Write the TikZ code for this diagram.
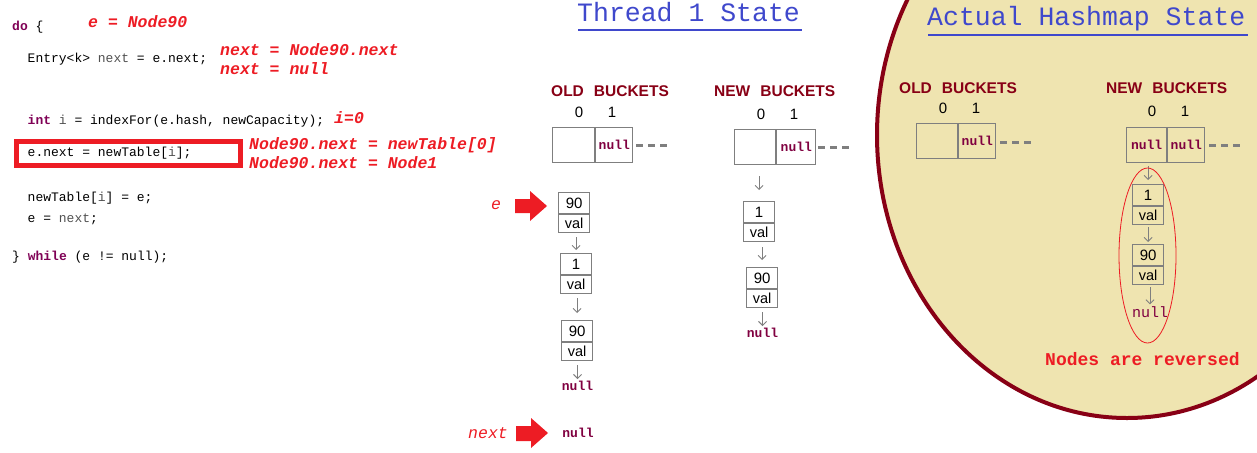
\documentclass[tikz,border=0pt]{standalone}
\usepackage{fontspec}
\newfontfamily\mono{Liberation Mono}
\newfontfamily\arial{Liberation Sans}
\usetikzlibrary{arrows.meta}
\definecolor{cred}{HTML}{ED1C24}
\definecolor{dred}{HTML}{880015}
\definecolor{tblue}{HTML}{3F48CC}
\definecolor{khaki}{HTML}{EFE4B0}
\definecolor{bgray}{HTML}{7F7F7F}
\definecolor{kw}{HTML}{7F0055}
\definecolor{nullc}{HTML}{800040}
\definecolor{varc}{HTML}{505050}
\begin{document}
\begin{tikzpicture}[x=1pt,y=-1pt,
 code/.style={anchor=west,inner sep=0pt,font=\mono\fontsize{13}{13}\selectfont,text height=9pt,text depth=3pt,text=black},
 anno/.style={anchor=west,inner sep=0pt,font=\mono\bfseries\itshape\fontsize{16.5}{16.5}\selectfont,text=cred,text height=11pt,text depth=4pt},
 ttl/.style={anchor=west,inner sep=0pt,font=\mono\fontsize{26.5}{26.5}\selectfont,text=tblue,text height=17pt,text depth=5pt},
 ttlline/.style={draw=tblue,line width=2pt},
 head/.style={anchor=west,inner sep=0pt,font=\arial\bfseries\fontsize{15.5}{15.5}\selectfont,text=dred},
 idx/.style={inner sep=0pt,font=\arial\fontsize{15}{15}\selectfont},
 bcell/.style={draw=bgray,line width=1.2pt,anchor=north west,inner sep=0pt,minimum height=35pt,font=\mono\bfseries\fontsize{13}{13}\selectfont,text=nullc},
 ntop/.style={draw=bgray,line width=1.2pt,anchor=north west,inner sep=0pt,minimum width=31pt,minimum height=21pt,font=\arial\fontsize{15}{15}\selectfont},
 nbot/.style={draw=bgray,line width=1.2pt,anchor=north,inner sep=0pt,minimum width=31pt,minimum height=18pt,font=\arial\fontsize{14.5}{14.5}\selectfont},
 nulltxt/.style={inner sep=0pt,font=\mono\bfseries\fontsize{13}{13}\selectfont,text=nullc},
 link/.style={draw=bgray,line width=0.9pt,-{Straight Barb[length=4pt,width=8pt]}},
 dashes/.style={draw=bgray,line width=3pt,dash pattern=on 7pt off 5pt},
 blockarrow/.style={fill=cred},
 elab/.style={anchor=west,inner sep=0pt,font=\mono\itshape\fontsize{16.5}{16.5}\selectfont,text=cred}
]
\useasboundingbox (0,0) rectangle (1257,452);
\begin{scope}
\clip (0,0) rectangle (1257,452);
\draw[fill=khaki,draw=dred,line width=4pt] (1127,135) ellipse [x radius=250,y radius=283];
\end{scope}

% ---------- code ----------
\node[code] (c1) at (12,28) {\textcolor{kw}{\bfseries do} \{};
\node[code] (c2) at (27.5,60) {Entry<k> \textcolor{varc}{next} = e.next;};
\node[code] (c3) at (27.5,121) {\textcolor{kw}{\bfseries int} \textcolor{varc}{i} = indexFor(e.hash, newCapacity);};
\node[code] (c4) at (27.5,153) {e.next = newTable[\textcolor{varc}{i}];};
\node[code] (c5) at (27.5,198) {newTable[\textcolor{varc}{i}] = e;};
\node[code] (c6) at (27.5,219) {e = \textcolor{varc}{next};};
\node[code] (c7) at (12,257) {\} \textcolor{kw}{\bfseries while} (e != null);};
\draw[draw=cred,line width=5pt] (16.5,141.5) rectangle (240.5,165.5);

\node[anno] (a1) at (88,24) {e = Node90};
\node[anno] (a2) at (220,52) {next = Node90.next};
\node[anno] (a3) at (220,71) {next = null};
\node[anno] (a4) at (334,120) {i=0};
\node[anno] (a5) at (249,146) {Node90.next = newTable[0]};
\node[anno] (a6) at (249,165) {Node90.next = Node1};

% ---------- Thread 1 State ----------
\node[ttl] (t1) at (577,16) {Thread 1 State};
\draw[ttlline] (578,30.5) -- (802,30.5);

\node[head] (ob1) at (551,91) {OLD\hspace{10pt}BUCKETS};
\node[idx] (oi0) at (579,112) {0};
\node[idx] (oi1) at (612,112) {1};
\node[bcell,minimum width=42pt] (ob0c) at (552,127) {};
\node[bcell,minimum width=37pt] (ob1c) at (ob0c.north east) {null};
\coordinate (od1) at (636,145);
\coordinate (od2) at (667,145);
\draw[dashes] (od1) -- (od2);

\node[head] (nb1) at (714,91) {NEW\hspace{10pt}BUCKETS};
\node[idx] (ni0) at (761,114) {0};
\node[idx] (ni1) at (794,114) {1};
\node[bcell,minimum width=41pt] (nb0c) at (734,129) {};
\node[bcell,minimum width=39pt] (nb1c) at (nb0c.north east) {null};
\coordinate (nd1) at (818,147);
\coordinate (nd2) at (849,147);
\draw[dashes] (nd1) -- (nd2);

% thread 1 chain (old)
\node[ntop] (ta) at (558,192) {90};
\node[nbot] (tav) at (ta.south) {val};
\node[ntop] (tb) at (560,253) {1};
\node[nbot] (tbv) at (tb.south) {val};
\node[ntop] (tc) at (561,320) {90};
\node[nbot] (tcv) at (tc.south) {val};
\node[nulltxt] (tnull) at (577.5,386) {null};
\draw[link,shorten <=4pt,shorten >=3pt] (tb.north |- tav.south) -- (tb.north);
\draw[link,shorten <=4pt,shorten >=7pt] (tc.north |- tbv.south) -- (tc.north);
\draw[link,shorten <=4pt,shorten >=2pt] (tnull.north |- tcv.south) -- (tnull.north);

% thread 1 chain (new)
\node[ntop] (na) at (743,201) {1};
\node[nbot] (nav) at (na.south) {val};
\node[ntop] (nbn) at (746,267) {90};
\node[nbot] (nbv) at (nbn.south) {val};
\node[nulltxt] (nnull) at (762.5,333) {null};
\draw[link,shorten <=11pt,shorten >=11pt] (na.north |- nb0c.south) -- (na.north);
\draw[link,shorten <=5pt,shorten >=7pt] (nbn.north |- nav.south) -- (nbn.north);
\draw[link,shorten <=4pt,shorten >=2pt] (nnull.north |- nbv.south) -- (nnull.north);

% pointers
\node[elab] (elbl) at (491,205) {e};
\fill[blockarrow] (515,199) -- (530,199) -- (530,191) -- (547,206) -- (530,221) -- (530,213) -- (515,213) -- cycle;
\node[elab] (nlbl) at (468,433) {next};
\fill[blockarrow] (516,426) -- (531,426) -- (531,418) -- (548,433) -- (531,448) -- (531,441) -- (516,441) -- cycle;
\node[nulltxt] (nextnull) at (578,433) {null};

% ---------- Actual Hashmap State ----------
\node[ttl] (t2) at (927,20) {Actual Hashmap State};
\draw[ttlline] (928,35) -- (1248,35);

\node[head] (hob) at (899,88) {OLD\hspace{10pt}BUCKETS};
\node[idx] (hoi0) at (943,108) {0};
\node[idx] (hoi1) at (976,108) {1};
\node[bcell,minimum width=41pt] (hob0c) at (916,123) {};
\node[bcell,minimum width=37pt] (hob1c) at (hob0c.north east) {null};
\coordinate (hod1) at (1000,142);
\coordinate (hod2) at (1031,142);
\draw[dashes] (hod1) -- (hod2);

\node[head] (hnb) at (1106,88) {NEW\hspace{10pt}BUCKETS};
\node[idx] (hni0) at (1152,111) {0};
\node[idx] (hni1) at (1185,111) {1};
\node[bcell,minimum width=40pt] (hnb0c) at (1126,127) {null};
\node[bcell,minimum width=37pt] (hnb1c) at (hnb0c.north east) {null};
\coordinate (hnd1) at (1209,145);
\coordinate (hnd2) at (1240,145);
\draw[dashes] (hnd1) -- (hnd2);

\node[ntop] (ha) at (1132,184) {1};
\node[nbot] (hav) at (ha.south) {val};
\node[ntop] (hb) at (1132,244) {90};
\node[nbot] (hbv) at (hb.south) {val};
\node[nulltxt,font=\mono\fontsize{15}{15}\selectfont] (hnull) at (1150,312) {null};
\draw[link,shorten <=3pt,shorten >=4pt] (ha.north |- hnb0c.south) -- (ha.north);
\draw[link,shorten <=2pt,shorten >=2pt] (hb.north |- hav.south) -- (hb.north);
\draw[link,shorten <=2pt,shorten >=2pt] (hnull.north |- hbv.south) -- (hnull.north);
\draw[cred,line width=0.8pt] (1147.5,255.5) ellipse [x radius=28.5,y radius=87.5];
\node[anchor=west,inner sep=0pt,font=\mono\bfseries\fontsize{18}{18}\selectfont,text=cred] (rev) at (1045,359) {Nodes are reversed};
\end{tikzpicture}
\end{document}
